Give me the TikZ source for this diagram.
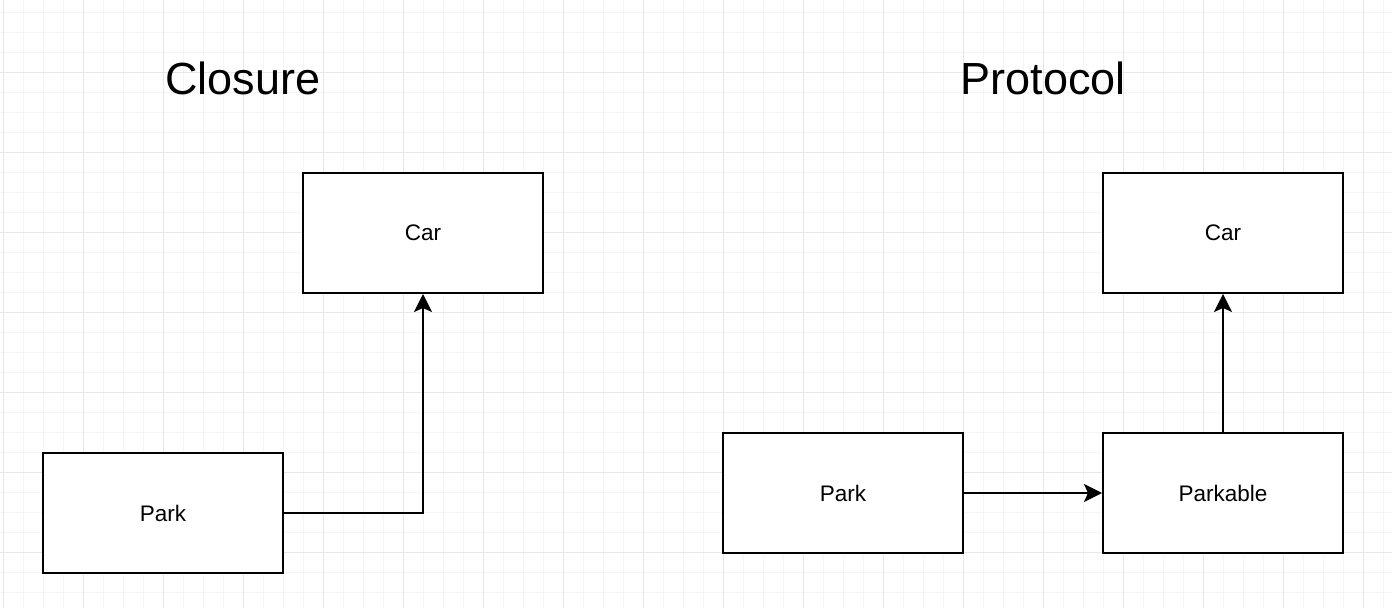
\documentclass[tikz,border=0pt]{standalone}
\usepackage{fontspec}
\setmainfont{Liberation Sans}
\usepackage{xcolor}
\usepackage{tikz}
\usetikzlibrary{positioning,calc,arrows.meta}

\definecolor{minorgrid}{HTML}{F5F5F5}
\definecolor{majorgrid}{HTML}{E7E7E7}

\begin{document}
\begin{tikzpicture}[x=1pt,y=-1pt,
    block/.style={draw=black,line width=2pt,fill=white,minimum width=240pt,
        minimum height=120pt,inner sep=0pt,font=\fontsize{22.5}{27}\selectfont},
    heading/.style={inner sep=0pt,font=\fontsize{45}{54}\selectfont},
    link/.style={line width=2pt,-{Stealth[length=18pt,width=18pt,inset=4pt]}}
    ]

    % page and background grid
    \useasboundingbox (0,0) rectangle (1392,608);
    \fill[white] (0,0) rectangle (1392,608);
    \foreach \x in {3,23,...,1392}
        \draw[minorgrid,line width=1pt] (\x,0) -- (\x,608);
    \foreach \y in {12,32,...,608}
        \draw[minorgrid,line width=1pt] (0,\y) -- (1392,\y);
    \foreach \x in {3,83,...,1392}
        \draw[majorgrid,line width=1pt] (\x,0) -- (\x,608);
    \foreach \y in {72,152,...,608}
        \draw[majorgrid,line width=1pt] (0,\y) -- (1392,\y);

    % closure side
    \node[heading] (closure) at (243,78) {Closure};
    \node[block] (carA) at (423,233) {Car};
    \node[block] (parkA) at (163,513) {Park};
    \draw[link] (parkA.east) -| (carA.south);

    % protocol side
    \node[heading] (protocol) at (1043,78) {Protocol};
    \node[block] (carB) at (1223,233) {Car};
    \node[block] (parkB) at (843,493) {Park};
    \node[block] (parkable) at (1223,493) {Parkable};
    \draw[link] (parkB) -- (parkable);
    \draw[link] (parkable) -- (carB);
\end{tikzpicture}
\end{document}
